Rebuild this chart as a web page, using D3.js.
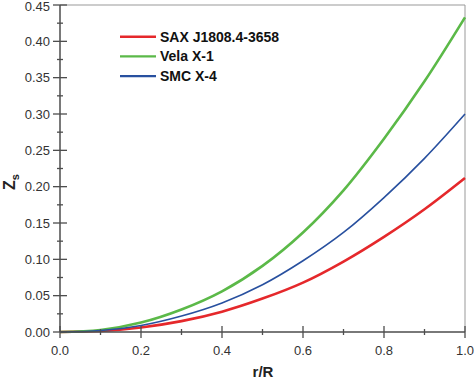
<!DOCTYPE html>
<html><head><meta charset="utf-8">
<script src="https://cdn.jsdelivr.net/npm/d3@7"></script>
<style>body{margin:0;background:#fff}svg{display:block}text{font-family:"Liberation Sans",Arial,sans-serif}</style>
</head><body>
<svg id="c" width="474" height="379"></svg>
<script>
const rValues = [0, 0.1, 0.2, 0.3, 0.4, 0.5, 0.6, 0.7, 0.8, 0.9, 1.0];
const saxValues = [0, 0.0013, 0.0063, 0.015, 0.028, 0.046, 0.068, 0.097, 0.131, 0.169, 0.212];
const velaValues = [0, 0.0027, 0.013, 0.031, 0.056, 0.091, 0.137, 0.195, 0.266, 0.345, 0.433];
const smcValues = [0, 0.002, 0.009, 0.022, 0.040, 0.065, 0.098, 0.137, 0.185, 0.239, 0.300];
const seriesNames = ["SAX J1808.4-3658", "Vela X-1", "SMC X-4"];
const xTicks = [0, 0.2, 0.4, 0.6, 0.8, 1.0];
const yTicks = [0, 0.05, 0.10, 0.15, 0.20, 0.25, 0.30, 0.35, 0.40, 0.45];

const series = [
  {name: seriesNames[0], values: saxValues, color: "#e5282b", width: 2.6},
  {name: seriesNames[1], values: velaValues, color: "#5bb948", width: 2.6},
  {name: seriesNames[2], values: smcValues, color: "#28509f", width: 1.6}
];

const svg = d3.select("#c");
const L = 60, R = 465, T = 5, B = 332;
const x = d3.scaleLinear().domain([0, 1]).range([L, R]);
const y = d3.scaleLinear().domain([0, 0.45]).range([B, T]);
const axisColor = "#4d4d4d";

// frame top/right
svg.append("line").attr("x1", L).attr("x2", R).attr("y1", T).attr("y2", T).attr("stroke", "#999").attr("stroke-width", 1);
svg.append("line").attr("x1", R).attr("x2", R).attr("y1", T).attr("y2", B).attr("stroke", "#999").attr("stroke-width", 1);

// curves
const line = d3.line().x((d, i) => x(rValues[i])).y(d => y(d)).curve(d3.curveCatmullRom.alpha(0.5));
series.forEach(s => {
  svg.append("path").attr("d", line(s.values)).attr("fill", "none")
    .attr("stroke", s.color).attr("stroke-width", s.width);
});

// x axis
const gx = svg.append("g");
gx.append("line").attr("x1", L).attr("x2", R).attr("y1", B).attr("y2", B).attr("stroke", axisColor).attr("stroke-width", 1.5);
d3.range(0, 1.0001, 0.1).forEach((v, i) => {
  const major = i % 2 === 0;
  gx.append("line").attr("x1", x(v)).attr("x2", x(v))
    .attr("y1", B - (major ? 6 : 3)).attr("y2", B + (major ? 6 : 3))
    .attr("stroke", axisColor).attr("stroke-width", 1.3);
});
xTicks.forEach(v => {
  gx.append("text").attr("x", x(v)).attr("y", 355).attr("text-anchor", "middle")
    .attr("font-size", 13).attr("fill", "#333").text(d3.format(".1f")(v));
});

// y axis
const gy = svg.append("g");
gy.append("line").attr("x1", L).attr("x2", L).attr("y1", T).attr("y2", B).attr("stroke", axisColor).attr("stroke-width", 1.5);
d3.range(0, 0.4501, 0.025).forEach((v, i) => {
  const major = i % 2 === 0;
  gy.append("line").attr("y1", y(v)).attr("y2", y(v))
    .attr("x1", L - (major ? 7 : 3)).attr("x2", L + (major ? 7 : 3))
    .attr("stroke", axisColor).attr("stroke-width", 1.3);
});
yTicks.forEach(v => {
  gy.append("text").attr("x", 50).attr("y", Math.max(y(v) + 4.5, 11)).attr("text-anchor", "end")
    .attr("font-size", 13).attr("fill", "#333").text(d3.format(".2f")(v));
});

// axis titles
svg.append("text").attr("x", 263).attr("y", 377).attr("text-anchor", "middle")
  .attr("font-size", 15).attr("font-weight", "bold").attr("fill", "#222").text("r/R");
const yt = svg.append("text").attr("transform", "translate(15,182) rotate(-90)")
  .attr("text-anchor", "middle").attr("font-size", 16).attr("font-weight", "bold").attr("fill", "#222");
yt.append("tspan").text("Z");
yt.append("tspan").attr("font-size", 11).attr("dy", 4).text("s");

// legend
series.forEach((s, i) => {
  const ly = 36.7 + i * 19.7;
  svg.append("line").attr("x1", 120).attr("x2", 156).attr("y1", ly).attr("y2", ly)
    .attr("stroke", s.color).attr("stroke-width", 2.4);
  svg.append("text").attr("x", 160).attr("y", ly + 5).attr("font-size", 14)
    .attr("font-weight", "bold").attr("fill", "#111").text(s.name);
});
</script>
</body></html>
